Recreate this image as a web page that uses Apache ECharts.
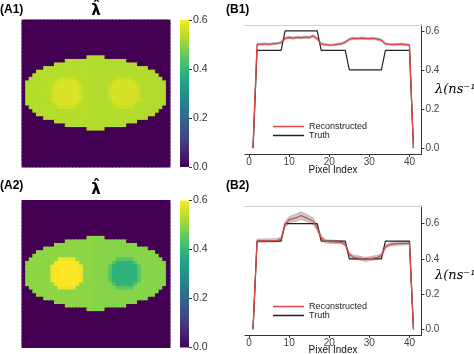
<!DOCTYPE html>
<html>
<head>
<meta charset="utf-8">
<script src="https://cdn.jsdelivr.net/npm/echarts@6/dist/echarts.min.js"></script>
<style>
html, body { margin: 0; padding: 0; background: #fff; }
#main { width: 474px; height: 354px; }
</style>
</head>
<body>
<div id="main"></div>
<script>
// profile along the middle row
var pixelIndex = [1,2,3,4,5,6,7,8,9,10,11,12,13,14,15,16,17,18,19,20,21,22,23,24,25,26,27,28,29,30,31,32,33,34,35,36,37,38,39,40,41];
var truth = [0, 0.5,0.5,0.5,0.5,0.5,0.5,0.5, 0.6,0.6,0.6,0.6,0.6,0.6,0.6,0.6,0.6, 0.5,0.5,0.5,0.5,0.5,0.5,0.5,
  0.4,0.4,0.4,0.4,0.4,0.4,0.4,0.4,0.4, 0.5,0.5,0.5,0.5,0.5,0.5,0.5, 0];

var recon1 = [0, 0.530,0.532,0.533,0.531,0.534,0.536,0.540, 0.562,0.566,0.563,0.567,0.565,0.568,0.566,0.574,0.560,
  0.533,0.530,0.527,0.528,0.531,0.534,0.542, 0.557,0.562,0.560,0.563,0.561,0.560,0.562,0.558,0.552,
  0.534,0.531,0.530,0.531,0.532,0.530,0.528, 0];
var lower1 = [0, 0.525,0.527,0.528,0.526,0.529,0.531,0.535, 0.556,0.560,0.557,0.561,0.559,0.562,0.560,0.568,0.554,
  0.528,0.525,0.522,0.523,0.526,0.529,0.537, 0.551,0.556,0.554,0.557,0.555,0.554,0.556,0.552,0.546,
  0.529,0.526,0.525,0.526,0.527,0.525,0.523, 0];
var upper1 = [0.003, 0.536,0.537,0.538,0.536,0.539,0.541,0.546, 0.568,0.572,0.569,0.573,0.571,0.574,0.572,0.580,0.566,
  0.538,0.535,0.532,0.533,0.536,0.539,0.547, 0.563,0.568,0.566,0.569,0.567,0.566,0.568,0.564,0.558,
  0.539,0.536,0.535,0.536,0.537,0.535,0.533, 0.003];

var recon2 = [0, 0.500,0.502,0.503,0.502,0.503,0.505,0.512, 0.595,0.622,0.628,0.636,0.645,0.635,0.625,0.612,0.575,
  0.520,0.500,0.497,0.496,0.495,0.493,0.482, 0.425,0.410,0.405,0.402,0.396,0.400,0.404,0.408,0.418,
  0.468,0.480,0.484,0.486,0.487,0.488,0.489, 0];
var lower2 = [0, 0.492,0.494,0.495,0.494,0.495,0.496,0.502, 0.580,0.605,0.610,0.616,0.624,0.615,0.606,0.594,0.560,
  0.508,0.490,0.488,0.487,0.486,0.484,0.472, 0.414,0.399,0.394,0.391,0.385,0.389,0.393,0.397,0.406,
  0.458,0.471,0.475,0.477,0.478,0.479,0.480, 0];
var upper2 = [0.004, 0.512,0.513,0.514,0.513,0.514,0.516,0.524, 0.610,0.640,0.648,0.657,0.667,0.656,0.645,0.632,0.592,
  0.532,0.510,0.507,0.506,0.505,0.503,0.493, 0.437,0.422,0.417,0.414,0.408,0.412,0.416,0.420,0.430,
  0.478,0.490,0.494,0.496,0.497,0.498,0.499, 0.004];

// phantom image 41 x 41: [row, firstCol, lastCol]
var ellipseRows = [[10,18,22],[11,12,28],[12,9,31],[13,6,34],[14,4,36],[15,3,37],[16,2,38],
  [17,1,39],[18,1,39],[19,1,39],[20,1,39],[21,1,39],[22,1,39],[23,1,39],
  [24,2,38],[25,3,37],[26,4,36],[27,6,34],[28,9,31],[29,12,28],[30,18,22]];
var leftCircleRows = [[16,10,14],[17,9,15],[18,8,16],[19,8,16],[20,8,16],[21,8,16],[22,8,16],[23,9,15],[24,10,14]];
var rightCircleRows = [[16,26,30],[17,25,31],[18,24,32],[19,24,32],[20,24,32],[21,24,32],[22,24,32],[23,25,31],[24,26,30]];

// bgLeft, bgRight, leftCore, leftRim, rightCore, rightRim
var singleCompVals = [0.532, 0.529, 0.568, 0.552, 0.563, 0.549];
var twoCompVals = [0.497, 0.491, 0.635, 0.585, 0.385, 0.440];

var xTicks = [0, 10, 20, 30, 40];
var yTicks = [0, 0.2, 0.4, 0.6];
var viridis = ['#440154','#482475','#414487','#355f8d','#2a788e','#21918c','#22a884','#44bf70','#7ad151','#bddf26','#fde725'];

var N = 41;

function paintCircle(img, rows, core, rim) {
  for (var k = 0; k < rows.length; k++) {
    var s = rows[k];
    for (var c = s[1]; c <= s[2]; c++) {
      var edge = (k == 0 || k == rows.length - 1 || c == s[1] || c == s[2]);
      img[s[0]][c] = edge ? rim : core;
    }
  }
}

function buildImage(vals) {
  var img = [];
  for (var r = 0; r < N; r++) {
    img.push([]);
    for (var c = 0; c < N; c++) img[r].push(0);
  }
  ellipseRows.forEach(function (s) {
    for (var c = s[1]; c <= s[2]; c++) img[s[0]][c] = c < 20 ? vals[0] : vals[1];
  });
  paintCircle(img, leftCircleRows, vals[2], vals[3]);
  paintCircle(img, rightCircleRows, vals[4], vals[5]);
  var cells = [];
  for (var r = 0; r < N; r++)
    for (var c = 0; c < N; c++) cells.push([c, r, img[r][c]]);
  return cells;
}

function pairs(arr) {
  return pixelIndex.map(function (x, i) { return [x, arr[i]]; });
}

var idx = [];
for (var i = 0; i < N; i++) idx.push(i);

var chartDom = document.getElementById('main');
var myChart = echarts.init(chartDom, null, { renderer: 'canvas' });

var tickFont = 'Liberation Sans';

function heatX(g) { return { type: 'category', data: idx, show: false, gridIndex: g }; }
function heatY(g) { return { type: 'category', data: idx, show: false, inverse: true, gridIndex: g }; }
function barX(g) { return { type: 'category', data: ['cb'], show: false, gridIndex: g }; }
function barY(g) {
  return {
    type: 'value', gridIndex: g, min: 0, max: 0.6, interval: 0.2, position: 'right',
    axisLine: { show: false },
    axisTick: { show: true, length: 3, lineStyle: { color: '#333' } },
    splitLine: { show: false },
    axisLabel: { margin: 4, fontSize: 10.5, color: '#333', fontFamily: tickFont,
      formatter: function (v) { return v.toFixed(1); } }
  };
}
function lineX(g) {
  return {
    type: 'value', gridIndex: g, min: -1, max: 43,
    axisLine: { onZero: false, lineStyle: { color: '#333', width: 1 } },
    axisTick: { show: true, length: 3, customValues: xTicks, lineStyle: { color: '#333' } },
    axisLabel: { margin: 3, fontSize: 10, color: '#444', fontFamily: tickFont, customValues: xTicks },
    splitLine: { show: false }
  };
}
function topLine(g) {
  return {
    type: 'value', gridIndex: g, min: -1, max: 43, position: 'top',
    axisLine: { onZero: false, lineStyle: { color: '#cfcfcf', width: 1 } },
    axisTick: { show: false }, axisLabel: { show: false }, splitLine: { show: false }
  };
}
function lineY(g, lo, hi) {
  return {
    type: 'value', gridIndex: g, min: lo, max: hi, position: 'right',
    axisLine: { show: true, onZero: false, lineStyle: { color: '#333', width: 1 } },
    axisTick: { show: true, length: 3, customValues: yTicks, lineStyle: { color: '#333' } },
    axisLabel: { margin: 4, fontSize: 10, color: '#444', fontFamily: tickFont, customValues: yTicks,
      formatter: function (v) { return v.toFixed(1); } },
    splitLine: { show: false }
  };
}

// image cells drawn as overlapping rects so no seams show
function imageSeries(xi, yi, cells) {
  return {
    type: 'custom', xAxisIndex: xi, yAxisIndex: yi, data: cells, silent: true,
    encode: { x: 0, y: 1 },
    renderItem: function (params, api) {
      var p = api.coord([api.value(0), api.value(1)]);
      var sz = api.size([1, 1]);
      var c = api.visual('color');
      return {
        type: 'rect',
        shape: { x: p[0] - sz[0] / 2 - 0.5, y: p[1] - sz[1] / 2 - 0.5, width: sz[0] + 1, height: sz[1] + 1 },
        style: { fill: c, stroke: null, opacity: 1 }
      };
    }
  };
}

function bandSeries(xi, yi, lo, hi) {
  return {
    type: 'custom', xAxisIndex: xi, yAxisIndex: yi, silent: true, z: 1,
    data: [[pixelIndex[0], lo[0]]],
    renderItem: function (params, api) {
      var pts = [];
      for (var i = 0; i < pixelIndex.length; i++) pts.push(api.coord([pixelIndex[i], hi[i]]));
      for (var j = pixelIndex.length - 1; j >= 0; j--) pts.push(api.coord([pixelIndex[j], lo[j]]));
      return {
        type: 'polygon', shape: { points: pts },
        style: { fill: 'rgba(160,160,160,0.55)', stroke: 'rgba(120,120,120,0.55)', lineWidth: 0.7 }
      };
    }
  };
}

function lineSeries(name, xi, yi, arr, color, w, z) {
  return {
    name: name, type: 'line', xAxisIndex: xi, yAxisIndex: yi, data: pairs(arr),
    symbol: 'none', z: z, lineStyle: { color: color, width: w }, itemStyle: { color: color }
  };
}

function colorBar(xi, yi) {
  return {
    type: 'bar', xAxisIndex: xi, yAxisIndex: yi, data: [0.6], barWidth: '100%', silent: true,
    itemStyle: {
      color: new echarts.graphic.LinearGradient(0, 1, 0, 0, viridis.map(function (c, i) {
        return { offset: i / 10, color: c };
      }))
    }
  };
}

function legendAt(top) {
  return {
    data: ['Reconstructed', 'Truth'], orient: 'vertical', left: 273, top: top,
    padding: 0, itemGap: 0, itemWidth: 31, itemHeight: 1.5, icon: 'rect',
    textStyle: { fontSize: 9, lineHeight: 8, color: '#222', fontFamily: tickFont },
    selectedMode: false
  };
}

function txt(s, x, y, font, color, align) {
  return {
    type: 'text', x: x, y: y, silent: true,
    style: { text: s, font: font, fill: color || '#000', textAlign: align || 'left', textVerticalAlign: 'middle' }
  };
}

var option = {
  animation: false,
  grid: [
    { left: 22, top: 20, width: 148, height: 147 },
    { left: 180, top: 20, width: 9, height: 147 },
    { left: 245, top: 25, width: 176.5, height: 129 },
    { left: 22, top: 200.5, width: 148, height: 147 },
    { left: 180, top: 200.5, width: 9, height: 147 },
    { left: 245, top: 206, width: 176.5, height: 129 }
  ],
  xAxis: [
    heatX(0),
    barX(1),
    lineX(2),
    topLine(2),
    heatX(3),
    barX(4),
    lineX(5),
    topLine(5)
  ],
  yAxis: [
    heatY(0),
    barY(1),
    lineY(2, -0.03, 0.63),
    heatY(3),
    barY(4),
    lineY(5, -0.033, 0.70)
  ],
  visualMap: {
    type: 'continuous', show: false, min: 0, max: 0.6, dimension: 2, seriesIndex: [0, 5],
    inRange: { color: viridis }
  },
  legend: [legendAt(122), legendAt(302)],
  series: [
    imageSeries(0, 0, buildImage(singleCompVals)),
    colorBar(1, 1),
    bandSeries(2, 2, lower1, upper1),
    lineSeries('Truth', 2, 2, truth, '#222222', 1.2, 2),
    lineSeries('Reconstructed', 2, 2, recon1, '#e04848', 1.3, 3),
    imageSeries(4, 3, buildImage(twoCompVals)),
    colorBar(5, 4),
    bandSeries(6, 5, lower2, upper2),
    lineSeries('Truth', 6, 5, truth, '#222222', 1.2, 2),
    lineSeries('Reconstructed', 6, 5, recon2, '#e04848', 1.3, 3)
  ],
  graphic: [
    txt('(A1)', 0, 10, 'bold 12px "Liberation Sans"'),
    txt('(B1)', 226, 10, 'bold 12px "Liberation Sans"'),
    txt('(A2)', 0, 186, 'bold 12px "Liberation Sans"'),
    txt('(B2)', 226, 186, 'bold 12px "Liberation Sans"'),
    txt('\u03bb\u0302', 96, 11, 'bold 15px "DejaVu Sans"', '#000', 'center'),
    txt('\u03bb\u0302', 96, 190, 'bold 15px "DejaVu Sans"', '#000', 'center'),
    txt('Single-comp', 31, 150, '14px "Noto Sans"', '#ffffff'),
    txt('Two-comp', 31, 330, '14px "Noto Sans"', '#ffffff'),
    txt('\u03bb(ns\u207b\u00b9)', 435, 90, 'italic 13px "DejaVu Serif"', '#000'),
    txt('\u03bb(ns\u207b\u00b9)', 435, 276, 'italic 13px "DejaVu Serif"', '#000'),
    txt('Pixel Index', 333, 170, '10px "Liberation Sans"', '#111', 'center'),
    txt('Pixel Index', 333, 350, '10px "Liberation Sans"', '#111', 'center')
  ]
};

if (option && typeof option === 'object') {
  myChart.setOption(option);
}
window.addEventListener('resize', myChart.resize);
</script>
</body>
</html>
